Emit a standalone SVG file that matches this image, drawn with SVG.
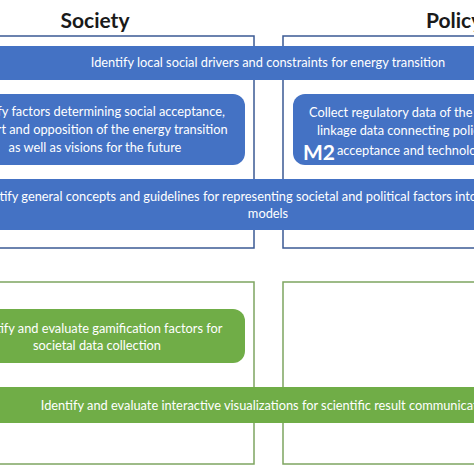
<svg xmlns="http://www.w3.org/2000/svg" width="474" height="474" viewBox="0 0 474 474">
<style>
.bg{fill:#ffffff}
.fb{fill:none;stroke:#3b5a94;stroke-width:1.5}
.fg{fill:none;stroke:#7ea560;stroke-width:1.5}
.blue{fill:#4472c4}
.green{fill:#70ad47}
.t{font-family:Lato,"Liberation Sans",sans-serif;font-size:12.8px;fill:#ffffff;text-anchor:middle}
.ts{font-family:Lato,"Liberation Sans",sans-serif;font-size:12.8px;fill:#ffffff}
.h{font-family:Lato,"Liberation Sans",sans-serif;font-size:21px;font-weight:bold;fill:#1a1a1a}
.m{font-family:Lato,"Liberation Sans",sans-serif;font-size:21px;font-weight:bold;fill:#ffffff}
</style>
<rect class="bg" x="0" y="0" width="474" height="474"/>
<g id="headers">
<text class="h" x="95" y="28" text-anchor="middle">Society</text>
<text class="h" x="426" y="28">Policy</text>
</g>
<g id="lane-society-blue"><rect class="fb" x="-60" y="36" width="314" height="212"/></g>
<g id="lane-policy-blue"><rect class="fb" x="283" y="36" width="260" height="212"/></g>
<g id="lane-society-green"><rect class="fg" x="-60" y="282" width="314" height="182"/></g>
<g id="lane-policy-green"><rect class="fg" x="283" y="282" width="260" height="182"/></g>
<g id="connectors"></g>
<g id="n-drivers">
<rect class="blue" x="-10" y="46" width="494" height="34"/>
<text class="t" x="268" y="67">Identify local social drivers and constraints for energy transition</text>
</g>
<g id="n-factors">
<rect class="blue" x="-60" y="94" width="305" height="71" rx="12"/>
<text class="t" x="95" y="116">Identify factors determining social acceptance,</text>
<text class="t" x="95" y="134">support and opposition of the energy transition</text>
<text class="t" x="95" y="152">as well as visions for the future</text>
</g>
<g id="n-regulatory">
<rect class="blue" x="293" y="94" width="260" height="71" rx="12"/>
<text class="ts" x="309" y="117">Collect regulatory data of the</text>
<text class="ts" x="317" y="135">linkage data connecting policy</text>
<text class="ts" x="337" y="155">acceptance and technology</text>
<text class="m" x="303" y="160">M2</text>
</g>
<g id="n-concepts">
<rect class="blue" x="-10" y="179" width="494" height="51"/>
<text class="t" x="268" y="201">Identify general concepts and guidelines for representing societal and political factors into energy system</text>
<text class="t" x="268" y="218">models</text>
</g>
<g id="n-gamification">
<rect class="green" x="-60" y="309" width="305" height="54" rx="12"/>
<text class="t" x="97" y="333">Identify and evaluate gamification factors for</text>
<text class="t" x="97" y="350">societal data collection</text>
</g>
<g id="n-visualizations">
<rect class="green" x="-10" y="387" width="494" height="36"/>
<text class="t" x="268" y="410">Identify and evaluate interactive visualizations for scientific result communication</text>
</g>
</svg>
